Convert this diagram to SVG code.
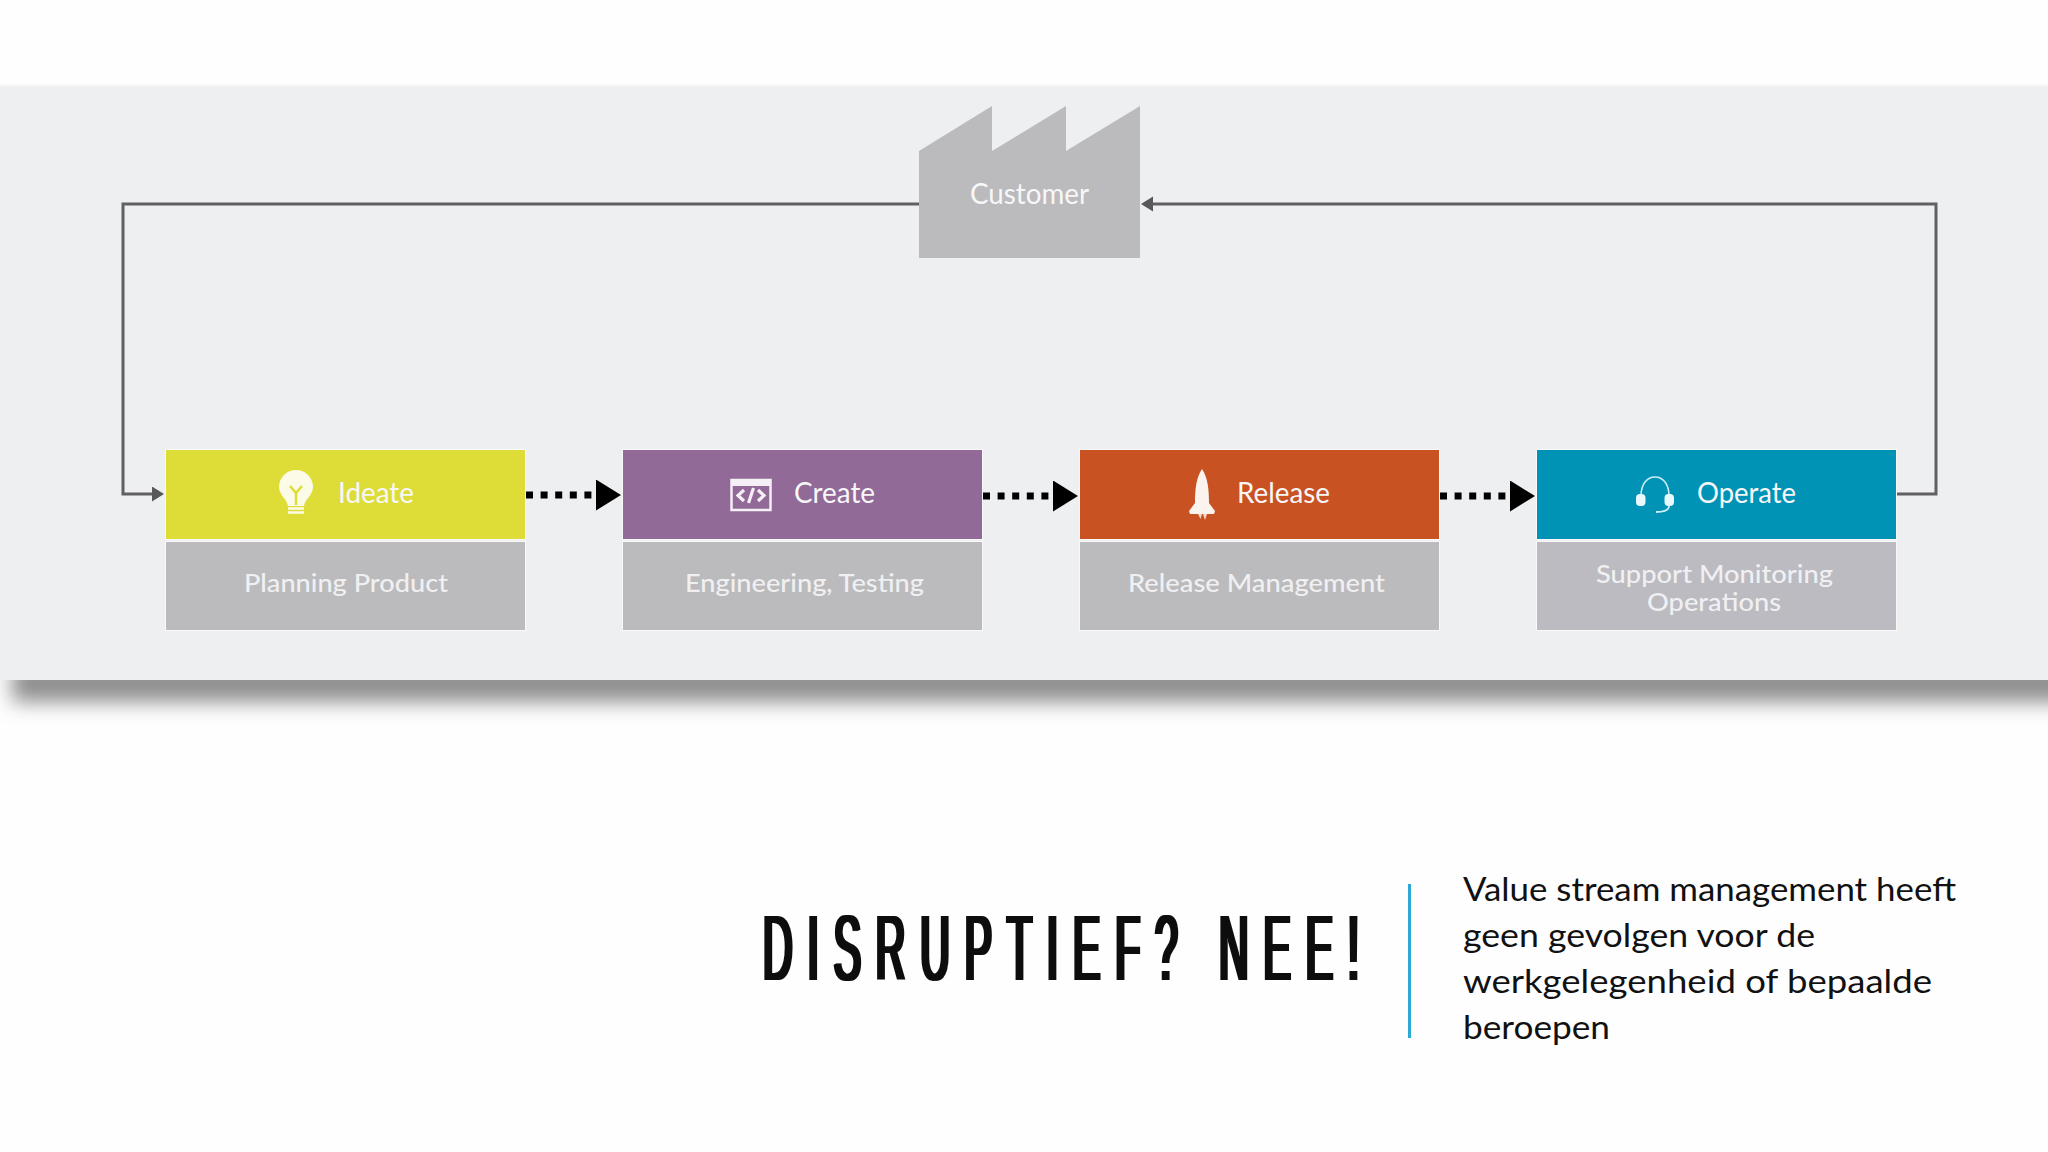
<svg xmlns="http://www.w3.org/2000/svg" width="2048" height="1152" viewBox="0 0 2048 1152">
<style>
.lato{font-family:"Lato","Liberation Sans",sans-serif;fill:#f7f7f8}
.head{font-size:28px}
.sub{font-size:24px;fill:#f0f0f2;font-weight:500}
.body{font-family:"Lato","Liberation Sans",sans-serif;font-size:33px;fill:#111}
.box{stroke:#f9f9fa;stroke-width:1}
.gray{fill:#bbbbbd}
.fb{fill:none;stroke:#606064;stroke-width:3}
.dot{fill:none;stroke:#000;stroke-width:7;stroke-dasharray:7 7.6}
</style>
<defs>
<marker id="big" markerUnits="userSpaceOnUse" markerWidth="26" markerHeight="32" refX="0" refY="15.5" orient="auto"><path d="M0,0L25,15.5L0,31z" fill="#000"/></marker>
<marker id="small" markerUnits="userSpaceOnUse" markerWidth="13" markerHeight="16" refX="0" refY="7.5" orient="auto"><path d="M0,0L12,7.5L0,15z" fill="#58585c"/></marker>
<filter id="sh" x="-5%" y="-100%" width="110%" height="300%"><feGaussianBlur stdDeviation="10"/></filter>
<filter id="thick" x="-5%" y="-10%" width="110%" height="120%"><feMorphology operator="dilate" radius="2 0"/><feGaussianBlur stdDeviation="0.4"/></filter>
<linearGradient id="topg" x1="0" y1="0" x2="0" y2="1"><stop offset="0" stop-color="#f8f8f8" stop-opacity="0"/><stop offset="1" stop-color="#ececec"/></linearGradient>
</defs>
<rect width="2048" height="1152" fill="#fefefe"/>
<g id="panel">
<rect x="0" y="82" width="2048" height="6" fill="url(#topg)"/>
<rect x="12" y="664" width="2060" height="38" fill="#8e8e8e" filter="url(#sh)"/>
<rect x="0" y="87" width="2048" height="593" fill="#eeeff1"/>
</g>
<g id="connectors">
<path class="fb" d="M919,204H123V494H152" marker-end="url(#small)"/>
<path class="fb" d="M1896,494H1936V204H1153" marker-end="url(#small)"/>
<path class="dot" d="M526,495H596" marker-end="url(#big)"/>
<path class="dot" d="M983,496H1053" marker-end="url(#big)"/>
<path class="dot" d="M1440,496H1510" marker-end="url(#big)"/>
</g>
<g id="customer">
<path d="M919,151L992,106V151L1066,106V151L1140,106V258H919z" fill="#bbbbbe"/>
<text class="lato" x="970" y="204" font-size="29" textLength="119" lengthAdjust="spacingAndGlyphs">Customer</text>
</g>
<g id="ideate">
<rect class="box" x="165.500" y="449.500" width="360" height="90" fill="#dedd38"/>
<rect class="box gray" x="165.500" y="541.500" width="360" height="89"/>
<path d="M279,487a17,17 0 1 1 34,0c0,8 -8,12 -9,19h-16c-1,-7 -9,-11 -9,-19z" fill="#fbfbe8"/>
<path d="M288,508.500h16M288,512.500h16" stroke="#fbfbe8" stroke-width="2.500" fill="none"/>
<path d="M290,486l6,7l6,-7M296,493v12" stroke="#dedd38" stroke-width="2.500" fill="none"/>
<text class="lato head" x="338" y="503" textLength="76" lengthAdjust="spacingAndGlyphs">Ideate</text>
<text class="lato sub" x="244" y="592" textLength="204" lengthAdjust="spacingAndGlyphs">Planning Product</text>
</g>
<g id="create">
<rect class="box" x="622.500" y="449.500" width="360" height="90" fill="#916a98"/>
<rect class="box gray" x="622.500" y="541.500" width="360" height="89"/>
<rect x="731.500" y="480" width="39" height="30" fill="none" stroke="#f5f0f6" stroke-width="2.500"/>
<rect x="731" y="480" width="40" height="6" fill="#f5f0f6"/>
<path d="M744,490l-6,5.500l6,5.500M758,490l6,5.500l-6,5.500M753.500,488l-5,15" fill="none" stroke="#f5f0f6" stroke-width="3.200"/>
<text class="lato head" x="794" y="503" textLength="81" lengthAdjust="spacingAndGlyphs">Create</text>
<text class="lato sub" x="685" y="592" textLength="239" lengthAdjust="spacingAndGlyphs">Engineering, Testing</text>
</g>
<g id="release">
<rect class="box" x="1079.500" y="449.500" width="360" height="90" fill="#c95223"/>
<rect class="box gray" x="1079.500" y="541.500" width="360" height="89"/>
<path d="M1202,469C1196,478 1195,490 1195,503L1189,511L1190,514H1214L1215,511L1209,503C1209,490 1208,478 1202,469z" fill="#fbf3ee"/>
<path d="M1198,514h4l-1.500,5zM1203,514h4l-2,6z" fill="#f3d8c8"/>
<text class="lato head" x="1237" y="503" textLength="93" lengthAdjust="spacingAndGlyphs">Release</text>
<text class="lato sub" x="1128" y="592" textLength="257" lengthAdjust="spacingAndGlyphs">Release Management</text>
</g>
<g id="operate">
<rect class="box" x="1536.500" y="449.500" width="360" height="90" fill="#0093b6"/>
<rect class="box" x="1536.500" y="541.500" width="360" height="89" fill="#bbbbc1"/>
<path d="M1641,496C1641,484 1647,477 1655,477C1663,477 1669,484 1669,496" fill="none" stroke="#cdeef6" stroke-width="1.500"/>
<rect x="1636" y="494" width="9.500" height="12" rx="4" fill="#e8f8fb"/>
<rect x="1664.500" y="494" width="9.500" height="12" rx="4" fill="#e8f8fb"/>
<path d="M1669,506C1669,510 1664,512 1656,512" fill="none" stroke="#cdeef6" stroke-width="1.800"/>
<text class="lato head" x="1697" y="503" textLength="99" lengthAdjust="spacingAndGlyphs">Operate</text>
<text class="lato sub" x="1596" y="583" textLength="237" lengthAdjust="spacingAndGlyphs">Support Monitoring</text>
<text class="lato sub" x="1647" y="611" textLength="134" lengthAdjust="spacingAndGlyphs">Operations</text>
</g>
<g id="title" filter="url(#thick)">
<text transform="translate(763,980) scale(.44,1)" font-family="'Liberation Sans',sans-serif" font-size="93" fill="#0d0d0d" textLength="1355" lengthAdjust="spacing">DISRUPTIEF? NEE!</text>
</g>
<rect id="divider" x="1408" y="884" width="3" height="154" fill="#2ea9d6"/>
<g id="description">
<text class="body" x="1463" y="901" textLength="493" lengthAdjust="spacingAndGlyphs">Value stream management heeft</text>
<text class="body" x="1463" y="947" textLength="352" lengthAdjust="spacingAndGlyphs">geen gevolgen voor de</text>
<text class="body" x="1463" y="993" textLength="469" lengthAdjust="spacingAndGlyphs">werkgelegenheid of bepaalde</text>
<text class="body" x="1463" y="1039" textLength="147" lengthAdjust="spacingAndGlyphs">beroepen</text>
</g>
</svg>
